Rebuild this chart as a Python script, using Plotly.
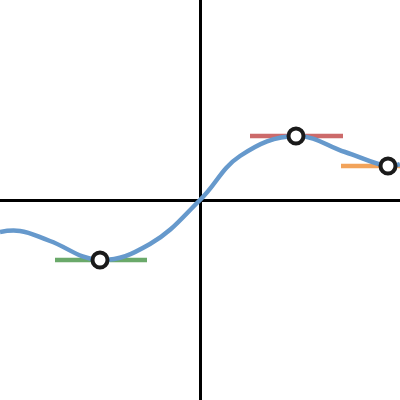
import plotly.graph_objects as go

curve_x = [-2.0, -1.8, -1.5, -1.0, -0.5, 0.0, 0.4, 0.96, 1.45, 1.88, 2.0]
curve_y = [-0.32, -0.31, -0.41, -0.60, -0.44, 0.0, 0.44, 0.64, 0.48, 0.34, 0.36]

pts_x = [-1.0, 0.96, 1.88]
pts_y = [-0.60, 0.64, 0.34]

tangents = [
    ([-1.45, -0.53], -0.60, "#6aa96a"),
    ([0.50, 1.43], 0.64, "#cc6a6a"),
    ([1.41, 2.0], 0.34, "#f2a35a"),
]

fig = go.Figure()
for xs, y, c in tangents:
    fig.add_trace(go.Scatter(x=xs, y=[y, y], mode="lines",
                             line=dict(color=c, width=4.5)))
fig.add_trace(go.Scatter(x=curve_x, y=curve_y, mode="lines",
                         line=dict(color="#6699cc", width=4.5, shape="spline", smoothing=1.2)))
fig.add_trace(go.Scatter(x=pts_x, y=pts_y, mode="markers", cliponaxis=False,
                         marker=dict(size=15, color="white",
                                     line=dict(color="#1a1a1a", width=4))))
ax = dict(range=[-2, 2], showgrid=False, showticklabels=False, ticks="",
          zeroline=True, zerolinecolor="black", zerolinewidth=2.5, fixedrange=True)
fig.update_layout(width=400, height=400, margin=dict(l=0, r=0, t=0, b=0),
                  paper_bgcolor="white", plot_bgcolor="white", showlegend=False,
                  xaxis=ax, yaxis=ax)
fig.write_html("out.html", config={"displayModeBar": False},
               post_script="document.body.style.margin='0';document.body.style.overflow='hidden';")
